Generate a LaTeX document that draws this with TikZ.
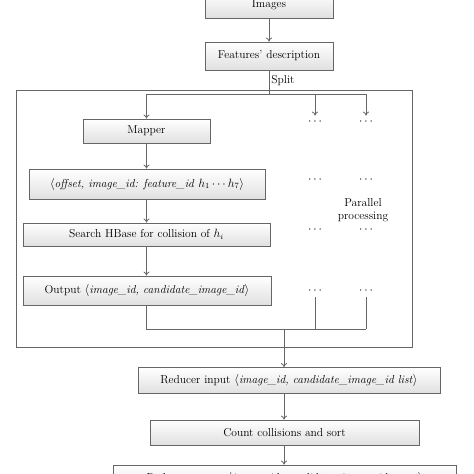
\documentclass[tikz,border=0pt]{standalone}
\usepackage{tikz}
\usetikzlibrary{arrows.meta,calc}

\begin{document}
\begin{tikzpicture}[x=1pt, y=-1pt, >={To[length=4pt,width=6pt]},
  line width=0.8pt, draw=black!60, font=\fontsize{11.5}{13.5}\selectfont,
  box/.style={draw=black!60, rectangle, top color=white, bottom color=black!12,
    inner sep=0pt, minimum height=#1},
  box/.default=26pt,
  flow/.style={->, draw=black!60}]

\useasboundingbox (0,0) rectangle (474,474);

\node [box, minimum width=128pt] at (269, 5) (images) {Images};
\node [box=28pt, minimum width=128pt] at (269, 56) (features) {Features' description};

% parallel part
\draw [draw=black!60] (16, 90) rectangle (412, 347);

\coordinate (split) at (269, 94);
\node [anchor=west, inner sep=2pt] at (269, 81) (splitlbl) {Split};

\node [box=24pt, minimum width=127pt] at (146.5, 131) (mapper) {Mapper};
\node [box=30pt, minimum width=236pt] at (147, 184) (offset)
  {$\langle$\textit{offset, image\_id: feature\_id} $h_1\cdots h_7\rangle$};
\node [box=23pt, minimum width=247pt] at (146.5, 234.5) (search)
  {Search HBase for collision of $h_i$};
\node [box=29pt, minimum width=248pt] at (147, 290.5) (output)
  {Output $\langle$\textit{image\_id, candidate\_image\_id}$\rangle$};

\node at (315, 122) (dotsA) {$\cdots$};
\node at (366, 122) (dotsB) {$\cdots$};
\node at (315, 180) (dotsC) {$\cdots$};
\node at (366, 180) (dotsD) {$\cdots$};
\node at (315, 230) (dotsE) {$\cdots$};
\node at (366, 230) (dotsF) {$\cdots$};
\node at (315, 291) (dotsG) {$\cdots$};
\node at (366, 291) (dotsH) {$\cdots$};

\node [align=center] at (363, 210) (parallel) {Parallel\\processing};

\draw (features) -- (split);
\draw (mapper.north |- split) -- (dotsB.north |- split);
\draw [flow] (mapper.north |- split) -- (mapper);
\draw [flow] (dotsA.north |- split) -- (dotsA.north);
\draw [flow] (dotsB.north |- split) -- (dotsB.north);

\draw [flow] (mapper) -- (mapper.south |- offset.north);
\draw [flow] (mapper.south |- offset.south) -- (mapper.south |- search.north);
\draw [flow] (mapper.south |- search.south) -- (mapper.south |- output.north);

\coordinate (merge) at (284, 329);
\draw (mapper.south |- output.south) -- (mapper.south |- merge) -- (dotsH.south |- merge);
\draw (dotsG.south) -- (dotsG.south |- merge);
\draw (dotsH.south) -- (dotsH.south |- merge);

% reducer part
\node [box=26pt, minimum width=302pt] at (289, 380.5) (redin)
  {Reducer input $\langle$\textit{image\_id, candidate\_image\_id list}$\rangle$};
\node [box=25pt, minimum width=269pt] at (284.5, 432.5) (count)
  {Count collisions and sort};
\node [box=26pt, minimum width=343pt] at (284.5, 478) (redout)
  {Reducer output $\langle$\textit{image\_id, candidate\_image\_id count}$\rangle$};

\draw [flow] (merge) -- (merge |- redin.north);
\draw [flow] (merge |- redin.south) -- (merge |- count.north);
\draw [flow] (merge |- count.south) -- (merge |- redout.north);
\draw [flow] (images) -- (features);

\end{tikzpicture}
\end{document}
